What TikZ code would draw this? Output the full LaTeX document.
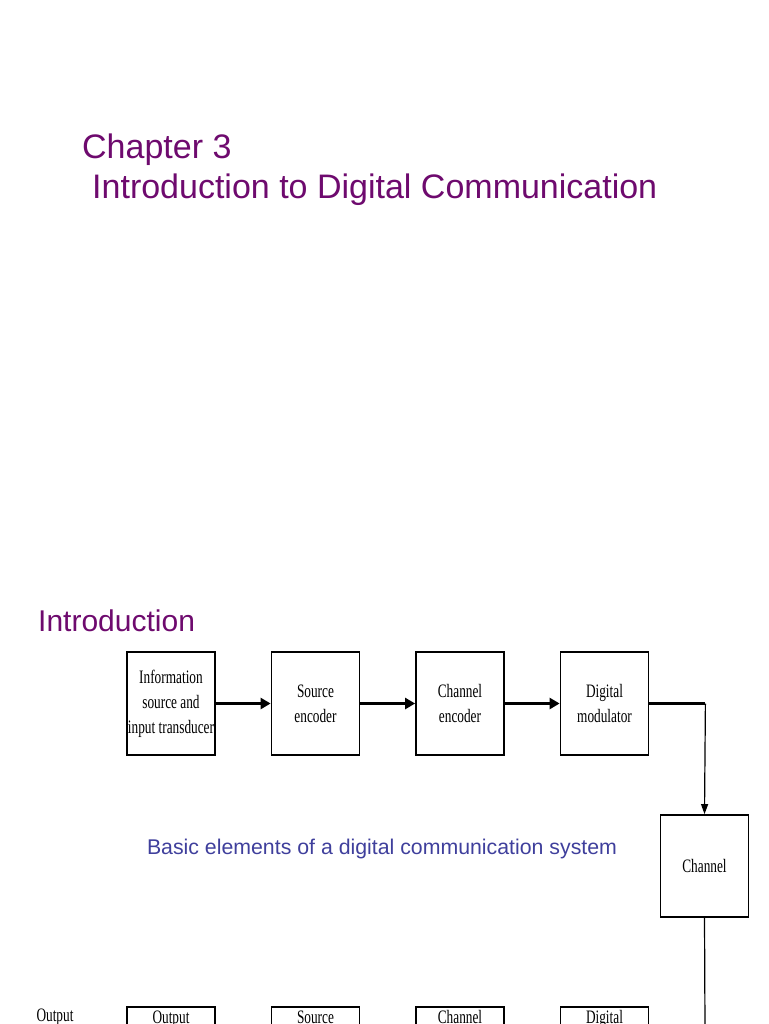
\documentclass[tikz,border=0pt]{standalone}
\usepackage{fontspec}
\setmainfont{Liberation Sans}
\newfontfamily\cond[FakeStretch=0.7]{Liberation Serif}
\usetikzlibrary{arrows.meta}
\definecolor{ttl}{HTML}{6E0A6E}
\definecolor{cap}{HTML}{3F3F9C}
\tikzset{
 blk/.style={draw, line width=1.8pt, minimum width=88pt, minimum height=103pt, inner sep=0pt, align=center, font=\cond\fontsize{19}{25}\selectfont},
 thk/.style={line width=2.6pt, -{Triangle[length=10pt,width=11pt]}},
 thn/.style={line width=1.2pt, -{Triangle[length=10pt,width=7pt]}},
}
\begin{document}
\begin{tikzpicture}[x=1pt,y=-1pt]
\useasboundingbox (0,0) rectangle (768,1024);
\clip (0,0) rectangle (768,1024);
\node[anchor=west, text=ttl, font=\fontsize{34}{38}\selectfont, inner sep=0pt] (t1) at (82,150) {Chapter 3};
\node[anchor=west, text=ttl, font=\fontsize{34}{38}\selectfont, inner sep=0pt] (t2) at (92,190) {Introduction to Digital Communication};
\node[anchor=west, text=ttl, font=\fontsize{30}{34}\selectfont, inner sep=0pt] (t3) at (38,621) {Introduction};
\node[blk] (b1) at (171,703.5) {Information\\source and\\input transducer};
\node[blk] (b2) at (315.5,703.5) {Source\\encoder};
\node[blk] (b3) at (460,703.5) {Channel\\encoder};
\node[blk] (b4) at (604.5,703.5) {Digital\\modulator};
\node[blk, minimum height=102pt] (ch) at (704.5,866) {Channel};
\node[text=cap, font=\fontsize{21.3}{24}\selectfont] (cp) at (382,849) {Basic elements of a digital communication system};
\draw[thk] (b1) -- (b2);
\draw[thk] (b2) -- (b3);
\draw[thk] (b3) -- (b4);
\draw[line width=2.6pt] (b4.east) -- ++(56,0) coordinate (k);
\draw[thn] (k) -- (ch.north);
\foreach \n/\x/\t in {c1/171/Output, c2/315.5/Source, c3/460/Channel, c4/604.5/Digital}{
  \node[blk, minimum height=103pt] (\n) at (\x,1058.5) {};
  \node[anchor=north, font=\cond\fontsize{19}{25}\selectfont] (\n t) at (\n.north) [yshift=-1pt] {\t};
}
\node[anchor=north, font=\cond\fontsize{19}{25}\selectfont] (os) at (55,1005) {Output};
\coordinate (bot) at (705,1030);
\draw[line width=1.2pt] (ch.south) -- (bot);
\end{tikzpicture}
\end{document}
